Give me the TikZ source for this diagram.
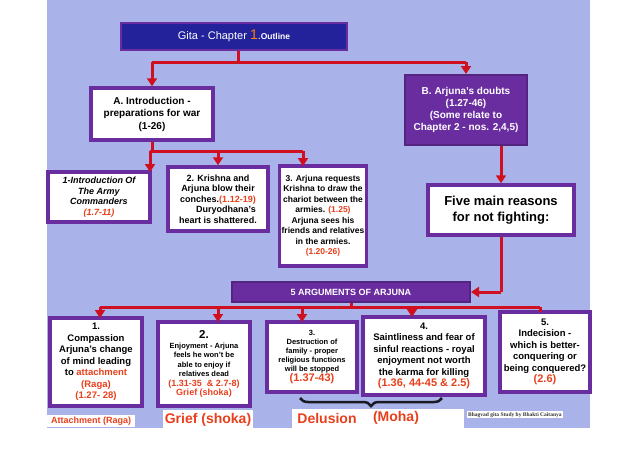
\documentclass[tikz,border=0pt]{standalone}
\usepackage{fontspec}
\setmainfont{Liberation Sans}
\newfontfamily\serifcredit{Liberation Serif}
\usetikzlibrary{arrows.meta,decorations.pathreplacing}
\definecolor{slide}{HTML}{A9B3EA}
\definecolor{pborder}{HTML}{6A2DA0}
\definecolor{navy}{HTML}{23229A}
\definecolor{redline}{HTML}{D01020}
\definecolor{ored}{HTML}{E8401C}
\tikzset{
 wbox/.style={draw=pborder,line width=3.5pt,fill=white,align=center,font=\bfseries\fontsize{9}{10.5}\selectfont,inner sep=2pt},
 pbox/.style={draw=pborder!80!black,line width=2pt,fill=pborder,text=white,align=center,font=\bfseries\fontsize{10}{12}\selectfont},
 conn/.style={redline,line width=3pt},
 arr/.style={redline,line width=3pt,-{Triangle[width=10pt,length=8pt]}},
 lab/.style={fill=white,text=ored,font=\bfseries,inner sep=2pt}
}
\newcommand{\rd}[1]{\textcolor{ored}{#1}}
\begin{document}
\begin{tikzpicture}[x=1pt,y=-1pt]
\useasboundingbox (0,0) rectangle (638,451);
\fill[white] (0,0) rectangle (638,451);
\fill[slide] (47,0) rectangle (590,428);
% title
\node[draw=pborder,line width=2pt,fill=navy,text=white,minimum width=226pt,minimum height=27pt,font=\fontsize{11}{13}\selectfont] (title) at (234,36) {Gita - Chapter \textcolor{orange}{\fontsize{14}{14}\selectfont 1}.\textbf{\fontsize{8.5}{10}\selectfont Outline}};
% A and B
\node[wbox,font=\bfseries\fontsize{10}{12.5}\selectfont,minimum width=122pt,minimum height=52pt] (A) at (152,114) {A. Introduction -\\preparations for war\\(1-26)};
\node[pbox,minimum width=122pt,minimum height=70pt] (B) at (466,110) {B. Arjuna's doubts\\(1.27-46)\\(Some relate to\\Chapter 2 - nos. 2,4,5)};
\coordinate (t1) at (238,62);
\draw[conn] (title.south -| t1) -- (t1);
\draw[conn] (152,62) -- (466,62);
\draw[arr] (152,62) -- (A.north);
\draw[arr] (466,62) -- (B.north);
% level 2
\node[wbox,font=\bfseries\itshape\fontsize{9}{10.5}\selectfont,minimum width=102pt,minimum height=50pt] (n1) at (99,197) {1-Introduction Of\\The Army\\Commanders\\\rd{(1.7-11)}};
\node[wbox,minimum width=100pt,minimum height=64pt] (n2) at (218,199) {2. Krishna and\\Arjuna blow their\\conches.\rd{(1.12-19)}\\\hfill Duryodhana's\\heart is shattered.};
\node[wbox,font=\bfseries\fontsize{8.5}{10.5}\selectfont,minimum width=86pt,minimum height=100pt] (n3) at (323,216) {3. Arjuna requests\\Krishna to draw the\\chariot between the\\armies. \rd{(1.25)}\\Arjuna sees his\\friends and relatives\\in the armies.\\\rd{(1.20-26)}};
\coordinate (j1) at (152,151);
\draw[conn] (A.south) -- (j1);
\draw[conn] (150,151) -- (303,151);
\draw[arr] (150,151) -- (150,172);
\draw[arr] (218,151) -- (n2.north);
\draw[arr] (303,151) -- (303,166);
% five reasons
\node[wbox,font=\bfseries\fontsize{13}{16}\selectfont,minimum width=146pt,minimum height=50pt] (five) at (501,210) {Five main reasons\\for not fighting:};
\draw[arr] (B.south -| five) -- (five.north);
% arguments bar
\node[pbox,font=\bfseries\fontsize{9}{10}\selectfont,minimum width=238pt,minimum height=20pt] (bar) at (351,292) {5 ARGUMENTS OF ARJUNA};
\coordinate (k1) at (501,292);
\draw[conn] (five.south) -- (k1);
\draw[arr] (k1) -- (bar.east);
% level 3
\node[wbox,font=\bfseries\fontsize{9.5}{11.5}\selectfont,minimum width=92pt,minimum height=88pt] (a1) at (96,362) {1.\\Compassion\\Arjuna's change\\of mind leading\\to \rd{attachment}\\\rd{(Raga)}\\\rd{(1.27- 28)}};
\node[wbox,font=\bfseries\fontsize{7.5}{9.5}\selectfont,minimum width=92pt,minimum height=84pt] (a2) at (204,364) {{\fontsize{11.5}{11.5}\selectfont 2.}\\Enjoyment - Arjuna\\feels he won't be\\able to enjoy if\\relatives dead\\\rd{\fontsize{9}{11}\selectfont (1.31-35 \ \& 2.7-8)}\\\rd{\fontsize{9}{11}\selectfont Grief (shoka)}};
\node[wbox,font=\bfseries\fontsize{7.5}{9}\selectfont,minimum width=90pt,minimum height=70pt] (a3) at (312,357) {3.\\Destruction of\\family - proper\\religious functions\\will be stopped\\\rd{\fontsize{11}{14}\selectfont (1.37-43)}};
\node[wbox,font=\bfseries\fontsize{9.5}{11.5}\selectfont,minimum width=122pt,minimum height=78pt] (a4) at (424,356) {4.\\Saintliness and fear of\\sinful reactions - royal\\enjoyment not worth\\the karma for killing\\\rd{\fontsize{11}{14}\selectfont (1.36, 44-45 \& 2.5)}};
\node[wbox,font=\bfseries\fontsize{9.5}{11.5}\selectfont,minimum width=90pt,minimum height=80pt] (a5) at (545,352) {5.\\Indecision -\\which is better-\\conquering or\\being conquered?\\\rd{\fontsize{11}{14}\selectfont (2.6)}};
\coordinate (m1) at (351,307);
\draw[conn] (bar.south) -- (m1);
\draw[conn] (100,307) -- (540,307);
\draw[arr] (100,307) -- (100,318);
\draw[arr] (218,307) -- (218,322);
\draw[arr] (302,307) -- (302,322);
\draw[arr] (412,307) -- (412,317);
\draw[conn] (540,307) -- (540,312);
% bottom labels
\node[lab,font=\bfseries\fontsize{9}{11}\selectfont,minimum width=88pt,anchor=west] (l1) at (47,421) {Attachment (Raga)};
\node[lab,font=\bfseries\fontsize{14}{16}\selectfont,minimum width=88pt,minimum height=20pt] (l2) at (208,420) {Grief (shoka)};
\node[lab,minimum width=172pt,minimum height=20pt,anchor=west] (l3) at (292,419) {};
\node[text=ored,font=\bfseries\fontsize{14}{16}\selectfont] (l3a) at (327,418) {Delusion};
\node[text=ored,font=\bfseries\fontsize{14}{16}\selectfont] (l3b) at (396,418) {(Moha)};
\draw[decorate,decoration={brace,amplitude=8pt,mirror},line width=2.5pt,black,draw opacity=0.85] (300,398) -- (442,398);
\node[fill=white,anchor=north west,font=\serifcredit\bfseries\fontsize{5.5}{6.5}\selectfont,inner sep=1pt,text=black!80] (cr) at (467,411) {Bhagvad gita Study by Bhakti Caitanya};
\end{tikzpicture}
\end{document}
